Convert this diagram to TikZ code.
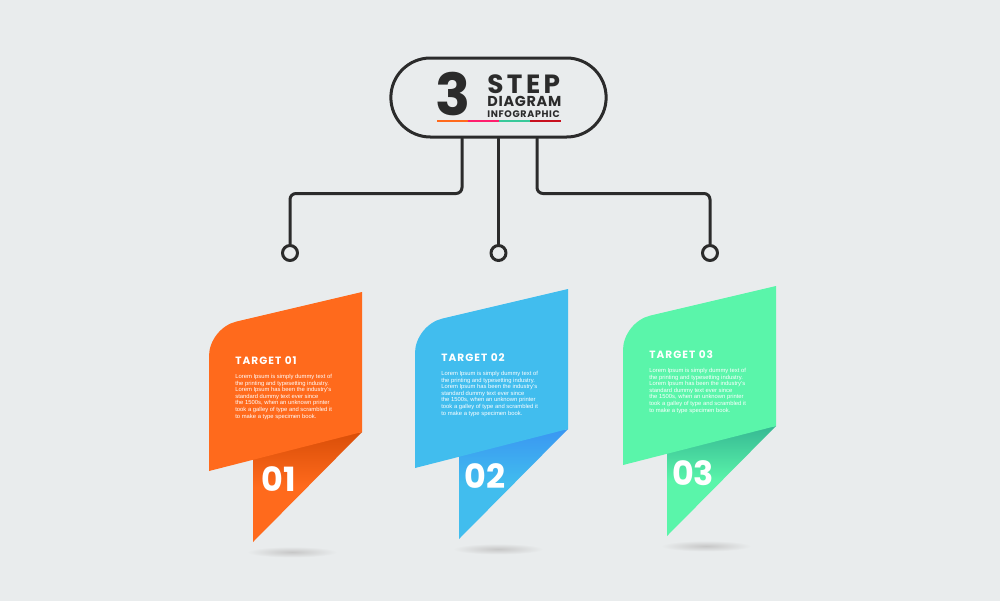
\documentclass[tikz,border=0pt]{standalone}
\usepackage{fontspec}
\setmainfont{Liberation Sans}
\newfontfamily\headfont{Poppins}
\newfontfamily\tgtfont[LetterSpace=10]{Poppins}
\usetikzlibrary{shapes.misc}
\definecolor{bg}{HTML}{E9ECED}
\definecolor{ink}{HTML}{2B2B2B}
\definecolor{panelA}{HTML}{FF6A1C}
\definecolor{foldA}{HTML}{D94E08}
\definecolor{panelB}{HTML}{41BDEE}
\definecolor{foldB}{HTML}{3A96F2}
\definecolor{panelC}{HTML}{5AF5AA}
\definecolor{foldC}{HTML}{36B893}
\definecolor{barA}{HTML}{FF6A1C}
\definecolor{barB}{HTML}{FF1F6E}
\definecolor{barC}{HTML}{38C99A}
\definecolor{barD}{HTML}{C8101E}
\begin{document}
\begin{tikzpicture}[x=0.2mm, y=-0.2mm, line join=round, line cap=round,
	conn/.style={draw=ink, line width=0.6mm, rounded corners=1.2mm},
	dot/.style={circle, draw=ink, line width=0.6mm, minimum size=3mm, inner sep=0pt},
	headline/.style={anchor=base west, inner sep=0pt, text=ink},
	target/.style={anchor=north west, inner sep=0pt, text=white, font=\tgtfont\bfseries\fontsize{6}{7}\selectfont},
	lorem/.style={anchor=north west, inner sep=0pt, text=white, align=left, font=\fontsize{3.33}{3.75}\selectfont},
	bignum/.style={inner sep=0pt, text=white, font=\headfont\bfseries\fontsize{19}{19}\selectfont}]
	% Nền
	\fill[bg] (0,0) rectangle (1000,601);
	\useasboundingbox (0,0) rectangle (1000,601);
	
	% Tiêu đề
	\node[rounded rectangle, draw=ink, line width=0.6mm, minimum width=45.4mm, minimum height=15.8mm] (title) at (498.5,97.5) {};
	\node[inner sep=0pt, text=ink, font=\headfont\bfseries\fontsize{33}{33}\selectfont] (three) at (453.5,94.5) {3};
	\node[headline, font=\headfont\bfseries\addfontfeature{LetterSpace=13}\fontsize{15}{15}\selectfont] (step) at (487,93) {STEP};
	\node[headline, font=\headfont\bfseries\addfontfeature{LetterSpace=5}\fontsize{8.2}{8.2}\selectfont] (diag) at (487,106.2) {DIAGRAM};
	\node[headline, font=\headfont\bfseries\addfontfeature{LetterSpace=7}\fontsize{5.4}{5.4}\selectfont] (info) at (487,117.2) {INFOGRAPHIC};
	% Thanh màu
	\foreach \c [count=\i from 0] in {barA,barB,barC,barD}
		\draw[\c, line width=0.45mm, line cap=butt] (437+31*\i,121) -- ++(31,0);
	
	% Đường nối
	\node[dot] (c1) at (290,253) {};
	\node[dot] (c2) at (498.5,253) {};
	\node[dot] (c3) at (710,253) {};
	\draw[conn] ([xshift=-7.3mm]title.south) -- ++(0,55) -| (c1);
	\draw[conn] (title.south) -- (c2);
	\draw[conn] ([xshift=7.7mm]title.south) -- ++(0,55) -| (c3);
	
	% Các thẻ
	\def\loremtxt{Lorem Ipsum is simply dummy text of\\the printing and typesetting industry.\\Lorem Ipsum has been the industry's\\standard dummy text ever since\\the 1500s, when an unknown printer\\took a galley of type and scrambled it\\to make a type specimen book.}
	\foreach \R/\T/\base/\fold/\num in {362/292/panelA/foldA/01, 568/289/panelB/foldB/02, 776/286/panelC/foldC/03}{
		\begin{scope}[shift={(\R,\T)}]
			% Bóng dưới thẻ
			\shade[inner color=black!22, outer color=bg] (-70,260) ellipse [x radius=9mm, y radius=1.1mm];
			% Đuôi gấp
			\shade[top color=\fold, bottom color=\base, middle color=\base] (-109,160) -- (0,140) -- (-109,250) -- cycle;
			% Phần trên
			\fill[\base] (0,0) [rounded corners=5.6mm] -- (-153,36) [sharp corners] -- (-153,179) -- (0,140) -- cycle;
			\node[target] (t\num) at (-127,64) {TARGET \num};
			\node[lorem] (l\num) at (-127,82) {\loremtxt};
			\node[bignum] (n\num) at (-83,187) {\num};
		\end{scope}
	}
\end{tikzpicture}
\end{document}
